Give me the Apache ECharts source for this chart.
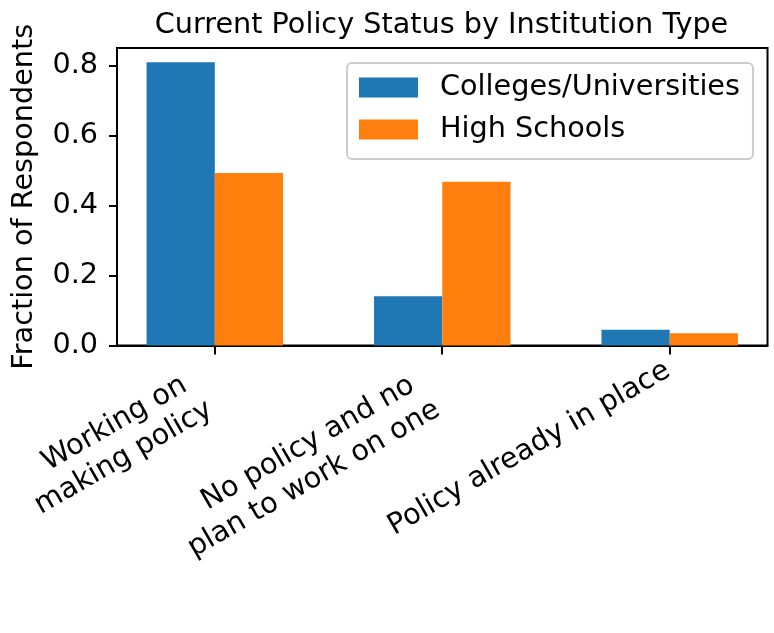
<!DOCTYPE html>
<html>
<head>
<meta charset="utf-8">
<script src="https://cdn.jsdelivr.net/npm/echarts@6/dist/echarts.min.js"></script>
<style>
html, body { margin: 0; padding: 0; background: #fff; }
#chart { width: 774px; height: 633px; }
</style>
</head>
<body>
<div id="chart"></div>
<script>
const titleText = 'Current Policy Status by Institution Type';
const yAxisName = 'Fraction of Respondents';
const categories = ['Working on\nmaking policy', 'No policy and no\nplan to work on one', 'Policy already in place'];
const seriesNames = ['Colleges/Universities', 'High Schools'];
const colleges = [0.81, 0.141, 0.045];
const highSchools = [0.493, 0.468, 0.035];
const yTicks = [0, 0.2, 0.4, 0.6, 0.8];
const catPositions = [0, 1, 2];

const FONT = 'DejaVu Sans';
const FS = 28.7;

const chart = echarts.init(document.getElementById('chart'), null, { renderer: 'canvas' });

const xBase = {
  type: 'value',
  min: -0.43,
  max: 2.43,
  position: 'bottom',
  gridIndex: 0,
  splitLine: { show: false }
};

function catLabel(v) {
  const lines = categories[Math.round(v)].split('\n');
  if (lines.length === 1) return lines[0];
  return '{a|' + lines[0] + '}\n{b|' + lines[1] + '}';
}

const richLines = {
  a: { fontFamily: FONT, fontSize: FS, color: '#000', lineHeight: 34, padding: [0, 10, 0, 0] },
  b: { fontFamily: FONT, fontSize: FS, color: '#000', lineHeight: 34 }
};

chart.setOption({
  backgroundColor: '#ffffff',
  animation: false,
  textStyle: { fontFamily: FONT },
  title: {
    text: titleText,
    left: 436.5,
    textAlign: 'center',
    top: 6,
    textStyle: { fontFamily: FONT, fontSize: FS, fontWeight: 'normal', color: '#000' }
  },
  legend: {
    orient: 'vertical',
    left: 347,
    top: 63,
    padding: [10, 13, 15, 12],
    itemWidth: 59,
    itemHeight: 20,
    itemGap: 13,
    icon: 'rect',
    borderColor: '#cccccc',
    borderWidth: 2,
    borderRadius: 5,
    backgroundColor: '#ffffff',
    textStyle: { fontFamily: FONT, fontSize: FS, color: '#000', lineHeight: 28, padding: [0, 0, 0, 17] },
    data: seriesNames
  },
  grid: {
    left: 117,
    top: 48,
    width: 650.5,
    height: 297.5,
    show: true,
    borderColor: '#000',
    borderWidth: 2,
    backgroundColor: 'transparent'
  },
  xAxis: [
    Object.assign({}, xBase, {
      axisLine: { show: true, onZero: false, lineStyle: { color: '#000', width: 2 } },
      axisTick: { show: true, length: 9, lineStyle: { color: '#000', width: 2 }, customValues: catPositions },
      axisLabel: {
        show: true,
        customValues: [0, 1],
        rotate: 30,
        margin: 40,
        padding: [0, 15, 0, 0],
        fontFamily: FONT, fontSize: FS, color: '#000', lineHeight: 34,
        rich: richLines,
        formatter: catLabel
      }
    }),
    Object.assign({}, xBase, {
      axisLine: { show: false, onZero: false },
      axisTick: { show: false },
      axisLabel: {
        show: true,
        customValues: [2],
        rotate: 30,
        margin: 22,
        padding: [0, 2, 0, 0],
        fontFamily: FONT, fontSize: FS, color: '#000', lineHeight: 34,
        formatter: catLabel
      }
    })
  ],
  yAxis: {
    type: 'value',
    min: 0,
    max: 0.8505,
    name: yAxisName,
    nameLocation: 'middle',
    nameGap: 78,
    nameTextStyle: { fontFamily: FONT, fontSize: FS, color: '#000' },
    splitLine: { show: false },
    axisLine: { show: true, onZero: false, lineStyle: { color: '#000', width: 2 } },
    axisTick: { show: true, length: 8, lineStyle: { color: '#000', width: 2 }, customValues: yTicks },
    axisLabel: {
      customValues: yTicks,
      margin: 19,
      fontFamily: FONT, fontSize: FS, color: '#000',
      formatter: v => v.toFixed(1)
    }
  },
  series: [
    {
      name: seriesNames[0],
      type: 'bar',
      xAxisIndex: 0,
      barWidth: '30%',
      barGap: '0%',
      itemStyle: { color: '#1f77b4' },
      data: colleges.map((v, i) => [catPositions[i], v])
    },
    {
      name: seriesNames[1],
      type: 'bar',
      xAxisIndex: 0,
      barWidth: '30%',
      barGap: '0%',
      itemStyle: { color: '#ff7f0e' },
      data: highSchools.map((v, i) => [catPositions[i], v])
    }
  ]
});
</script>
</body>
</html>
